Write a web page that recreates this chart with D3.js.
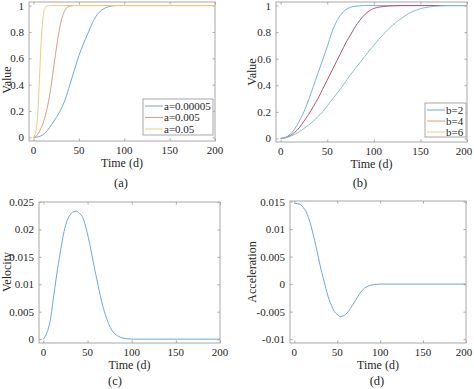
<!DOCTYPE html>
<html><head><meta charset="utf-8">
<script src="https://cdn.jsdelivr.net/npm/d3@7"></script>
<style>body{margin:0;background:#fff} svg text{font-family:'Liberation Serif','DejaVu Serif','Times New Roman',serif;fill:#262626}</style>
</head><body><svg id="c" width="474" height="389" font-family="'Liberation Serif','DejaVu Serif',serif"></svg>
<script>
// ---------- data ----------
const xTicks = [0, 50, 100, 150, 200];
const valueTicks = [0, 0.2, 0.4, 0.6, 0.8, 1];
const valueTickLabels = ["0", "0.2", "0.4", "0.6", "0.8", "1"];
const velocityTicks = [0, 0.005, 0.01, 0.015, 0.02, 0.025];
const velocityTickLabels = ["0", "0.005", "0.01", "0.015", "0.02", "0.025"];
const accelTicks = [-0.01, -0.005, 0, 0.005, 0.01, 0.015];
const accelTickLabels = ["-0.01", "-0.005", "0", "0.005", "0.01", "0.015"];

const legendA = ["a=0.00005", "a=0.005", "a=0.05"];
const legendB = ["b=2", "b=4", "b=6"];

// panel (a): [time, value]
const a1 = [[0,0],[5,0.004],[10,0.02],[15,0.05],[20,0.1],[25,0.15],[30,0.21],[35,0.29],[40,0.4],[45,0.51],[50,0.62],[55,0.71],[60,0.79],[65,0.87],[70,0.93],[75,0.965],[80,0.985],[85,0.995],[90,1],[200,1]];
const a2 = [[0,0],[3,0.01],[6,0.04],[9,0.08],[12,0.14],[15,0.22],[18,0.33],[21,0.47],[24,0.62],[27,0.76],[30,0.87],[33,0.94],[36,0.98],[40,0.995],[45,1],[200,1]];
const a3 = [[0,0],[1,0.01],[2,0.03],[3,0.06],[4,0.12],[5,0.22],[6,0.36],[7,0.52],[8,0.67],[9,0.79],[10,0.88],[11,0.94],[12,0.97],[13,0.985],[15,0.997],[18,1],[200,1]];
// panel (b)
const b1 = [[0,0],[5,0.007],[10,0.03],[15,0.07],[20,0.13],[25,0.2],[30,0.29],[35,0.39],[40,0.49],[45,0.59],[50,0.69],[55,0.8],[60,0.88],[65,0.935],[70,0.97],[75,0.987],[80,0.995],[90,1],[200,1]];
const b2 = [[0,0],[5,0.005],[10,0.02],[15,0.045],[20,0.08],[25,0.13],[30,0.18],[35,0.24],[40,0.3],[45,0.37],[50,0.44],[55,0.51],[60,0.58],[65,0.65],[70,0.72],[75,0.78],[80,0.84],[85,0.89],[90,0.93],[95,0.96],[100,0.978],[110,0.993],[120,0.998],[130,1],[200,1]];
const b3 = [[0,0],[5,0.004],[10,0.015],[15,0.03],[20,0.05],[25,0.075],[30,0.1],[35,0.13],[40,0.165],[45,0.2],[50,0.245],[55,0.29],[60,0.335],[65,0.38],[70,0.43],[75,0.48],[80,0.525],[85,0.57],[90,0.615],[95,0.66],[100,0.7],[105,0.745],[110,0.78],[115,0.82],[120,0.85],[125,0.88],[130,0.905],[135,0.93],[140,0.95],[145,0.965],[150,0.977],[160,0.99],[170,0.997],[180,1],[200,1]];
// panel (c) velocity
const vel = [[0,0],[4,0.0012],[7.5,0.0032],[11,0.0071],[15,0.0117],[19,0.0157],[22.6,0.019],[26,0.0212],[30,0.0226],[34,0.0232],[37.7,0.0233],[41,0.0229],[45,0.022],[49,0.0198],[52.8,0.0171],[56.5,0.014],[60.4,0.011],[64,0.0082],[68,0.0056],[72,0.0036],[75.5,0.0022],[79,0.0013],[83,0.0007],[88,0.0003],[94,0.0001],[100,0],[200,0]];
// panel (d) acceleration
const acc = [[0,0.0147],[4,0.0146],[7.7,0.0144],[10.5,0.0139],[13.5,0.0132],[16.5,0.0121],[19.3,0.0107],[22.2,0.0089],[25.1,0.007],[28,0.0049],[30.9,0.0028],[33.2,0.0014],[35.5,0],[38,-0.0015],[40.5,-0.0028],[43.4,-0.0039],[46.3,-0.0049],[50,-0.0055],[54,-0.0059],[58,-0.0057],[61.8,-0.0052],[65.5,-0.0044],[69.5,-0.0034],[73.5,-0.0024],[77.2,-0.0015],[82,-0.0007],[86.9,-0.0003],[93,-0.0001],[100,0],[200,0]];

// ---------- drawing ----------
const FONT = "'Liberation Serif','DejaVu Serif',serif";
const svg = d3.select("#c");
const boxColor = "#a8a8a8";

function panel(cfg) {
  const g = svg.append("g").attr("font-family", FONT);
  const x = d3.scaleLinear().domain([-5, 200]).range([cfg.x0, cfg.x1]);
  const y = d3.scaleLinear().domain(cfg.ydom).range([cfg.y1, cfg.y0]);
  const id = "clip" + cfg.name;
  svg.append("clipPath").attr("id", id).append("rect")
    .attr("x", cfg.x0).attr("y", cfg.y0).attr("width", cfg.x1 - cfg.x0).attr("height", cfg.y1 - cfg.y0);
  g.append("rect").attr("x", cfg.x0).attr("y", cfg.y0).attr("width", cfg.x1 - cfg.x0).attr("height", cfg.y1 - cfg.y0)
    .attr("fill", "#fff").attr("stroke", boxColor).attr("stroke-width", 1);

  const tl = 2.5;
  const styleAxis = sel => { sel.select(".domain").remove(); sel.selectAll("line").attr("stroke", boxColor); sel.selectAll("text").remove(); };
  g.append("g").attr("transform", `translate(0,${cfg.y1})`).call(d3.axisBottom(x).tickValues(xTicks).tickSize(-tl)).call(styleAxis);
  g.append("g").attr("transform", `translate(0,${cfg.y0})`).call(d3.axisTop(x).tickValues(xTicks).tickSize(-tl)).call(styleAxis);
  g.append("g").attr("transform", `translate(${cfg.x0},0)`).call(d3.axisLeft(y).tickValues(cfg.yticks).tickSize(-tl)).call(styleAxis);
  g.append("g").attr("transform", `translate(${cfg.x1},0)`).call(d3.axisRight(y).tickValues(cfg.yticks).tickSize(-tl)).call(styleAxis);

  // tick labels (keep the last one inside the page)
  g.selectAll(".xt").data(xTicks).join("text").attr("x", d => Math.min(x(d), 464)).attr("y", cfg.y1 + 13)
    .attr("text-anchor", "middle").attr("font-size", 11).attr("font-family", FONT).text(d => d);
  g.selectAll(".yt").data(cfg.yticks).join("text").attr("x", cfg.x0 - 5).attr("y", d => y(d) + 4)
    .attr("text-anchor", "end").attr("font-size", 11).attr("font-family", FONT).text((d, i) => cfg.ylabels[i]);

  // curves
  const line = d3.line().x(d => x(d[0])).y(d => y(d[1])).curve(d3.curveMonotoneX);
  cfg.series.forEach(s => {
    g.append("path").attr("d", line(s.data)).attr("fill", "none").attr("stroke", s.color)
      .attr("stroke-width", 1).attr("clip-path", `url(#${id})`);
  });

  // labels
  g.append("text").attr("x", (cfg.x0 + cfg.x1) / 2).attr("y", cfg.y1 + 26).attr("text-anchor", "middle")
    .attr("font-size", 12).attr("font-family", FONT).text("Time (d)");
  g.append("text").attr("transform", `translate(${cfg.ylx},${cfg.yly}) rotate(-90)`).attr("text-anchor", "middle")
    .attr("font-size", 12).attr("font-family", FONT).text(cfg.ylab);
  g.append("text").attr("x", cfg.capx).attr("y", cfg.capy).attr("text-anchor", "middle")
    .attr("font-size", 12.5).attr("font-family", FONT).text(cfg.caption);

  // legend
  if (cfg.legend) {
    const L = cfg.legend;
    g.append("rect").attr("x", L.x).attr("y", L.y).attr("width", L.w).attr("height", L.h)
      .attr("fill", "#fff").attr("stroke", boxColor).attr("stroke-width", 1);
    L.names.forEach((n, i) => {
      const yy = L.y + L.first + i * L.step;
      g.append("line").attr("x1", L.x + 2).attr("x2", L.x + 2 + L.len).attr("y1", yy).attr("y2", yy)
        .attr("stroke", L.colors[i]).attr("stroke-width", 1);
      g.append("text").attr("x", L.x + 3 + L.len).attr("y", yy + 3.5).attr("font-size", 11)
        .attr("font-family", FONT).text(n);
    });
  }
}

const cBlue = "#6ba9d6", cOrange = "#e39a78", cYellow = "#efcb7a";

panel({name: "a", x0: 29, x1: 215, y0: 2, y1: 141, ydom: [-0.027, 1.027], yticks: valueTicks, ylabels: valueTickLabels,
  series: [{data: a1, color: cBlue}, {data: a2, color: cOrange}, {data: a3, color: cYellow}],
  ylab: "Value", ylx: 11, yly: 80, caption: "(a)", capx: 121, capy: 187,
  legend: {x: 143, y: 99, w: 70, h: 36, first: 7, step: 11.5, len: 18, names: legendA, colors: [cBlue, cOrange, cYellow]}});

panel({name: "b", x0: 276, x1: 467, y0: 2, y1: 142, ydom: [-0.027, 1.027], yticks: valueTicks, ylabels: valueTickLabels,
  series: [{data: b1, color: "#74b3da"}, {data: b2, color: "#b9526c"}, {data: b3, color: "#84c2c8"}],
  ylab: "Value", ylx: 256, yly: 72, caption: "(b)", capx: 360, capy: 187,
  legend: {x: 425, y: 103, w: 41, h: 34, first: 7, step: 11, len: 18, names: legendB, colors: [cBlue, cOrange, cYellow]}});

panel({name: "c", x0: 39, x1: 220, y0: 202, y1: 343, ydom: [-0.0007, 0.025], yticks: velocityTicks, ylabels: velocityTickLabels,
  series: [{data: vel, color: cBlue}],
  ylab: "Velocity", ylx: 11, yly: 272, caption: "(c)", capx: 115, capy: 385});

panel({name: "d", x0: 290, x1: 466, y0: 201, y1: 343, ydom: [-0.0107, 0.0151], yticks: accelTicks, ylabels: accelTickLabels,
  series: [{data: acc, color: cBlue}],
  ylab: "Acceleration", ylx: 256, yly: 272, caption: "(d)", capx: 377, capy: 385});
</script></body></html>
